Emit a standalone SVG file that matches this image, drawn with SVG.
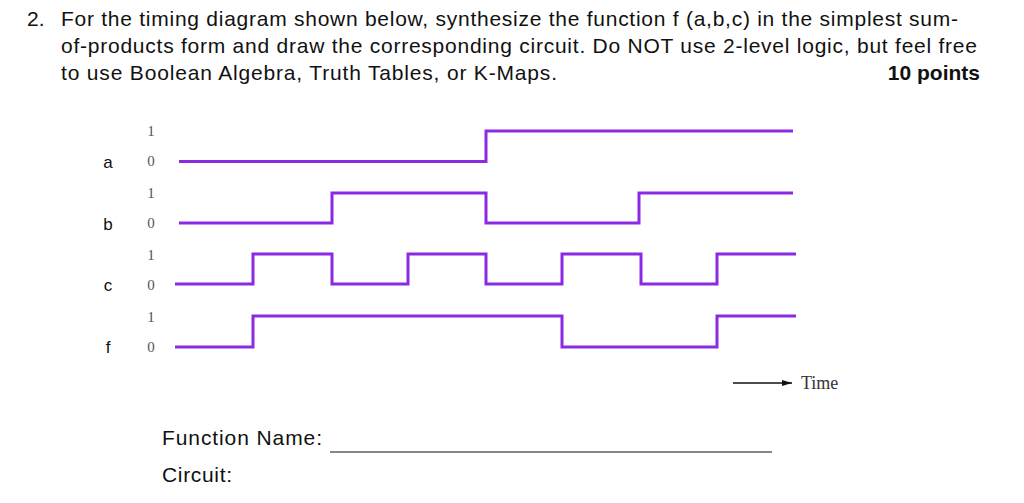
<svg xmlns="http://www.w3.org/2000/svg" width="1024" height="503" viewBox="0 0 1024 503">
<style>
.t{font-family:"Liberation Sans",Arial,sans-serif;font-size:21px;fill:#111}
.s{font-family:"Liberation Sans",Arial,sans-serif;font-size:17px;fill:#111;text-anchor:middle}
.n{font-family:"Liberation Serif","Times New Roman",serif;font-size:15px;fill:#555;text-anchor:middle}
.w{fill:none;stroke:#8a2be2;stroke-width:3}
</style>
<defs><marker id="ar" markerWidth="10" markerHeight="8" refX="10" refY="4" orient="auto" markerUnits="userSpaceOnUse"><path d="M0,1 L10,4 L0,7 Z" fill="#111"/></marker></defs>
<rect width="1024" height="503" fill="#fff"/>
<text class="t" x="27" y="26">2.</text>
<text class="t" x="61" y="26" textLength="897" lengthAdjust="spacing">For the timing diagram shown below, synthesize the function f (a,b,c) in the simplest sum-</text>
<text class="t" x="61" y="53" textLength="916" lengthAdjust="spacing">of-products form and draw the corresponding circuit. Do NOT use 2-level logic, but feel free</text>
<text class="t" x="61" y="80" textLength="496" lengthAdjust="spacing">to use Boolean Algebra, Truth Tables, or K-Maps.</text>
<text class="t" x="980" y="80" text-anchor="end" font-weight="bold">10 points</text>
<g id="labels">
<text class="s" x="108" y="168">a</text><text class="s" x="108" y="230">b</text><text class="s" x="108" y="291">c</text><text class="s" x="108" y="353">f</text>
<text class="n" x="151" y="136">1</text><text class="n" x="151" y="166">0</text>
<text class="n" x="151" y="198">1</text><text class="n" x="151" y="228">0</text>
<text class="n" x="151" y="260">1</text><text class="n" x="151" y="290">0</text>
<text class="n" x="151" y="322">1</text><text class="n" x="151" y="352">0</text>
</g>
<g id="waves">
<polyline class="w" points="179,161.5 486,161.5 486,131 793,131"/>
<polyline class="w" points="179,223 332,223 332,193 486,193 486,223 639,223 639,193 793,193"/>
<polyline class="w" points="175,284 253,284 253,254 332,254 332,284 408,284 408,254 486,254 486,284 562,284 562,254 641,254 641,284 717,284 717,254 796,254"/>
<polyline class="w" points="175,347 253,347 253,316 562,316 562,347 717,347 717,316 796,316"/>
</g>
<g id="time">
<line x1="733" y1="383" x2="792" y2="383" stroke="#111" stroke-width="1.5" marker-end="url(#ar)"/>
<text x="801" y="389" font-family="Liberation Serif,serif" font-size="18" fill="#333">Time</text>
</g>
<text class="t" x="162" y="445" textLength="160" lengthAdjust="spacing">Function Name:</text>
<line x1="330" y1="452" x2="772" y2="452" stroke="#111" stroke-width="1.2"/>
<text class="t" x="162" y="482" textLength="70" lengthAdjust="spacing">Circuit:</text>
</svg>
